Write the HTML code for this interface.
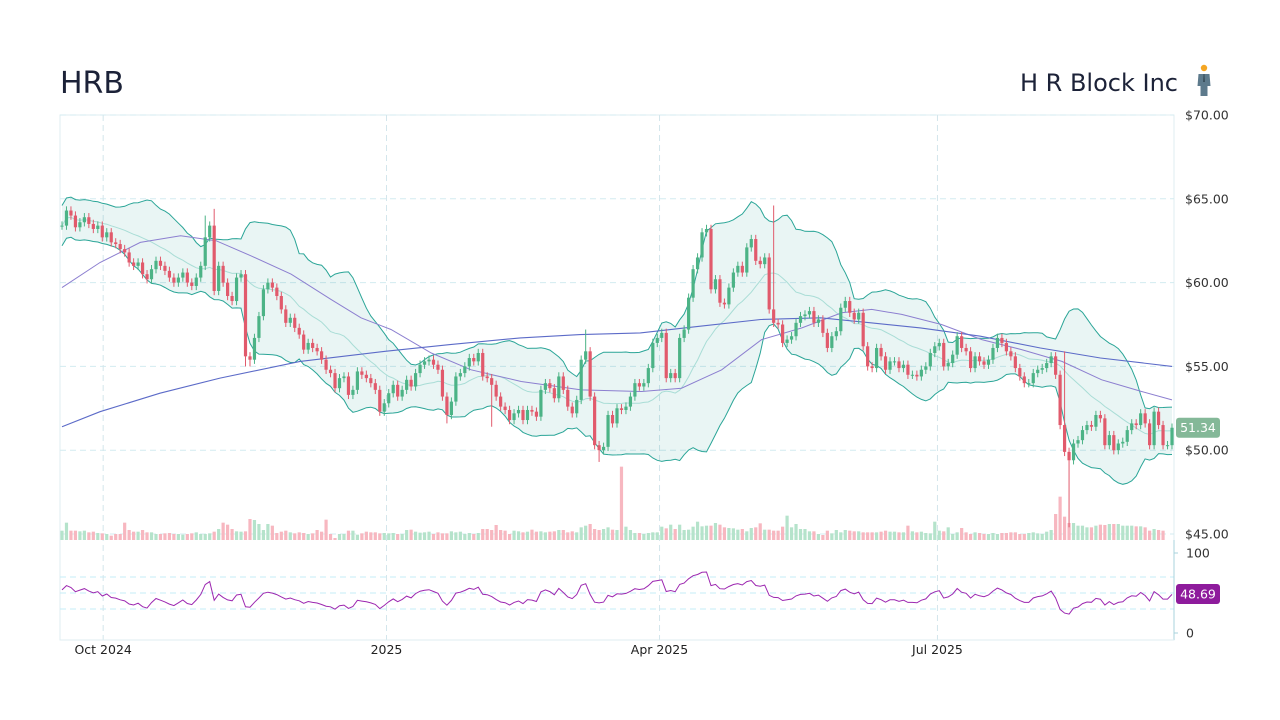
<!DOCTYPE html>
<html><head><meta charset="utf-8"><style>
html,body{margin:0;padding:0;background:#fff;}
svg{display:block;font-family:"DejaVu Sans","Liberation Sans",sans-serif;}
</style></head><body>
<svg id="chart" width="1280" height="720" viewBox="0 0 1280 720">
<text x="60" y="93" font-size="30" fill="#1c2238">HRB</text>
<text x="1178" y="91" font-size="24" fill="#1c2238" text-anchor="end">H R Block Inc</text>
<g>
<circle cx="1204" cy="68" r="3.2" fill="#f5a623"/>
<path d="M1198.5 74 h11 l1 12 h-3 v10 h-7 v-10 h-3z" fill="#5d7a8c"/>
<path d="M1203.5 74 h1 l0.5 8 h-2z" fill="#3a4f5c"/>
</g>
<g id="grid"></g>
<g id="vol"></g>
<g id="bands"></g>
<g id="mas"></g>
<g id="candles"></g>
<g id="rsi"></g>
<g id="axes"></g>
</svg>
<script>
const closes=[63.4,64.3,64.0,63.3,63.6,63.9,63.5,63.2,63.4,62.7,
63.0,62.4,62.3,62.0,61.8,61.2,61.0,61.2,60.5,60.2,
60.8,61.3,61.0,60.7,60.3,60.0,60.3,60.6,60.0,59.8,
60.3,61.0,62.7,63.4,59.5,61.0,60.0,59.2,58.9,60.3,
60.5,55.6,55.4,56.7,58.0,59.6,60.0,59.7,59.2,58.4,
57.6,57.9,57.3,56.9,56.0,56.4,56.1,55.9,55.4,54.8,
54.6,53.7,54.3,
54.4,53.3,53.6,54.7,54.5,54.3,54.0,53.6,52.3,52.8,
53.4,53.9,53.2,53.6,54.2,53.8,54.6,55.1,55.3,55.4,
55.1,54.8,53.2,52.1,52.9,54.4,54.6,55.0,55.5,55.3,
55.8,54.4,54.3,53.9,53.2,52.6,52.4,51.8,52.2,52.4,
51.8,52.4,52.3,52.0,53.6,54.0,53.7,53.1,54.4,53.6,
52.6,52.2,53.0,55.4,55.9,53.2,50.3,50.0,50.2,52.1,
51.6,52.5,52.4,52.6,53.2,
54.0,53.8,54.0,54.9,56.4,56.7,57.0,54.3,54.6,54.3,
56.7,57.2,59.1,60.8,61.5,63.0,63.2,59.6,60.2,58.8,
58.7,59.7,60.6,61.0,60.6,62.1,62.6,61.3,61.1,61.5,
58.4,57.6,57.5,56.4,56.6,56.8,57.6,58.0,58.1,58.3,
57.6,57.8,57.0,56.1,56.8,57.1,58.5,58.9,58.2,57.8,
58.2,56.2,55.0,54.9,56.1,55.6,54.8,55.3,55.3,54.9,
55.1,54.5,
54.5,54.4,54.8,55.0,55.8,56.2,56.4,55.0,55.2,55.7,
56.8,56.1,55.9,54.9,55.6,55.3,55.1,55.4,56.1,56.7,
56.4,55.9,55.6,54.9,54.4,54.0,54.0,54.6,54.8,54.9,
55.2,55.6,54.5,51.5,49.9,49.4,50.4,50.6,51.2,51.5,
51.4,52.1,51.9,50.3,50.9,50.0,50.4,50.5,51.2,51.6,
51.5,52.2,51.6,50.3,52.3,51.5,50.3,50.3,51.34];
const wickHighIdx=[34,41,159,224,32,117];
const wickHighVal=[64.4,59.6,64.6,55.9,64.0,57.2];
const wickLowIdx=[41,42,120,225,86,96];
const wickLowVal=[55.0,55.0,49.3,45.4,51.6,51.4];
const volumes=[1400,2600,1400,1400,1300,1400,1150,1250,1050,1000,900,650,900,900,2600,1500,1250,1250,1500,1150,1150,900,900,1000,1050,900,900,800,900,1000,1150,900,900,1000,1250,1650,2600,2300,1650,1300,1250,1300,3150,3000,2400,1500,2400,2150,1050,1250,1400,1150,1000,1150,1050,900,1000,1500,1250,3050,900,300,900,900,1400,1400,800,1000,1250,1150,1150,1000,1050,1000,1050,900,900,1500,1550,1250,1100,1150,1250,900,1150,1000,1000,1300,1150,1250,900,1050,900,1050,1650,1650,1500,2250,1500,1400,900,1400,1300,1150,1250,1550,1250,1300,1150,1250,1300,1500,1500,1150,1300,1150,1900,2150,2400,1650,1500,1650,
1900,1550,1500,11000,2000,1500,1050,1050,900,1050,1150,1150,2000,1750,2300,1650,2300,1500,1550,2000,2750,2050,2150,2150,2550,2300,1900,1800,1750,1550,1650,1300,1800,1900,2500,1550,1550,1400,1400,2000,3650,1900,2400,1650,1650,1300,1300,900,750,1400,1000,1500,1150,1500,1400,1300,1300,1150,1150,1150,1150,1250,1400,1250,1250,1150,1150,2150,1300,1150,1250,1050,1000,2750,1400,1300,1900,900,1150,1800,1150,900,1150,1050,900,900,1050,900,1050,1050,1150,1150,900,900,1050,1150,1000,900,1250,1500,3900,6500,3500,2550,2550,2150,2150,1900,1900,2150,2300,2250,2400,2400,2400,2150,2150,2150,2050,2050,1900,1400,1650,1500,1400];
const ma50Idx=[0,8.5,17.5,26.5,34.4,42.2,51.2,60.1,66.8,73.5,82.5,91.4,102.6,116,129.5,138.4,147.4,156.3,165.3,174.2,180.9,187.6,196.5,205.5,214.4,223.4,232.3,241.2,248];
const ma50Val=[59.7,61.2,62.4,62.8,62.5,61.6,60.5,59.0,57.9,57.2,55.8,54.8,54.1,53.6,53.5,53.7,54.8,56.6,57.3,58.2,58.4,58.1,57.5,56.6,56.0,55.3,54.2,53.5,53.0];
const ma200Idx=[0,8.5,21.9,35.3,53.2,72.2,86.7,102.4,115.8,129.2,142.6,156.1,169.5,180.7,191.8,205.2,218.6,232,248];
const ma200Val=[51.4,52.3,53.4,54.3,55.3,55.9,56.3,56.7,56.9,57.0,57.4,57.8,57.9,57.6,57.3,56.8,56.1,55.5,55.0];
const priceTicks=[70,65,60,55,50,45];
const timeTickIdx=[9.2,72.5,133.5,195.6];
const timeTickLabels=["Oct 2024","2025","Apr 2025","Jul 2025"];
const rsiTicks=[100,0];
const rsiLast=48.69;
const rsiSeedGain=0.28, rsiSeedLoss=0.24;

const NS="http://www.w3.org/2000/svg";
const L=60,R=1174,X0=62,X1=1172,PT=115,PB=534,P0=45,P1=70,RT=553,RB=633;
const n=closes.length;
const step=(X1-X0)/(n-1);
const xs=i=>X0+i*step;
const yp=p=>PB-(p-P0)*(PB-PT)/(P1-P0);
const yr=v=>RB-v*(RB-RT)/100;
function mk(tag,attrs,parent){const e=document.createElementNS(NS,tag);for(const k in attrs)e.setAttribute(k,attrs[k]);parent.appendChild(e);return e;}
const gGrid=document.getElementById('grid'),gVol=document.getElementById('vol'),gB=document.getElementById('bands'),gM=document.getElementById('mas'),gC=document.getElementById('candles'),gR=document.getElementById('rsi'),gA=document.getElementById('axes');

let fr=mk('rect',{x:L,y:PT,width:R-L,height:640-PT,fill:'none',stroke:'#dfeef2','stroke-width':1},gGrid);


priceTicks.forEach(p=>{
 const y=yp(p);
 const l=mk('line',{x1:L,x2:R,y1:y,y2:y,stroke:'#d3ebf0','stroke-dasharray':'6,4'},gGrid);
 
 
 const t=mk('text',{x:1185,y:y+4.5,'font-size':12.5,fill:'#333'},gA);
 t.textContent='$'+p.toFixed(2);
 
 
});
[70,50,30].forEach(v=>{
 const l=mk('line',{x1:L,x2:R,y1:yr(v),y2:yr(v),stroke:'#c6ecf7','stroke-dasharray':'6,4'},gGrid);
 
 
});
timeTickIdx.forEach((ix,k)=>{
 const x=xs(ix);
 const l=mk('line',{x1:x,x2:x,y1:PT,y2:640,stroke:'#d3e6ec','stroke-dasharray':'6,4'},gGrid);
 
 
 const t=mk('text',{x:x,y:654,'font-size':12.5,fill:'#222','text-anchor':'middle'},gA);
 t.textContent=timeTickLabels[k];
 
 
});
let ax=mk('line',{x1:R,x2:R,y1:540,y2:640,stroke:'#a9d3dc'},gA);


let bx=mk('line',{x1:L,x2:R,y1:640,y2:640,stroke:'#dfeef2'},gA);


rsiTicks.forEach(v=>{
 mk('line',{x1:R,x2:R+4,y1:yr(v),y2:yr(v),stroke:'#a9d3dc'},gA);
 const t=mk('text',{x:1186,y:yr(v)+4.5,'font-size':12.5,fill:'#333'},gA);
 t.textContent=String(v);
 
 
});

const opens=closes.map((c,i)=>i===0?c:closes[i-1]);
const highs=closes.map((c,i)=>Math.max(c,opens[i])+0.25);
const lows=closes.map((c,i)=>Math.min(c,opens[i])-0.25);
wickHighIdx.forEach((ix,k)=>{if(ix<n)highs[ix]=Math.max(highs[ix],wickHighVal[k]);});
wickLowIdx.forEach((ix,k)=>{if(ix<n)lows[ix]=Math.min(lows[ix],wickLowVal[k]);});

const VB=540,vScale=150;
for(let i=0;i<n&&i<volumes.length;i++){
 const h=volumes[i]/vScale;const up=closes[i]>=opens[i];
 const r=mk('rect',{x:xs(i)-1.6,y:VB-h,width:3.2,height:h,fill:up?'#b5e3cb':'#f7b7c0'},gVol);
 
 
}

const up=[],lo=[],mid=[];
for(let i=0;i<n;i++){const w=closes.slice(Math.max(0,i-19),i+1);const m=w.reduce((a,b)=>a+b,0)/w.length;const sd=Math.sqrt(w.reduce((a,b)=>a+(b-m)*(b-m),0)/w.length);const s=Math.max(sd,0.6);mid.push(m);up.push(m+2*s);lo.push(m-2*s);}
let dU=up.map((v,i)=>(i?'L':'M')+xs(i).toFixed(1)+','+yp(v).toFixed(1)).join('');
let dL=lo.map((v,i)=>'L'+xs(i).toFixed(1)+','+yp(v).toFixed(1)).reverse().join('');
let bf=mk('path',{d:dU+dL+'Z',fill:'rgba(0,140,130,0.085)',stroke:'none'},gB);


[[up,'bollinger-upper','#2aa597'],[lo,'bollinger-lower','#2aa597'],[mid,'bollinger-middle','#a9ddd6']].forEach(([arr,nm,col])=>{
 const p=mk('path',{d:arr.map((v,i)=>(i?'L':'M')+xs(i).toFixed(1)+','+yp(v).toFixed(1)).join(''),fill:'none',stroke:col,'stroke-width':1},gB);
 
 
});
const m50=mk('path',{d:ma50Idx.map((ix,k)=>(k?'L':'M')+xs(ix).toFixed(1)+','+yp(ma50Val[k]).toFixed(1)).join(''),fill:'none',stroke:'#8c7fd0','stroke-width':1},gM);


const m200=mk('path',{d:ma200Idx.map((ix,k)=>(k?'L':'M')+xs(ix).toFixed(1)+','+yp(ma200Val[k]).toFixed(1)).join(''),fill:'none',stroke:'#5c6bc8','stroke-width':1.1},gM);



for(let i=0;i<n;i++){
 const o=opens[i],c=closes[i];const upc=c>=o;const col=upc?'#4cb386':'#e15a6c';
 const x=xs(i);
 const w=mk('line',{x1:x,x2:x,y1:yp(highs[i]),y2:yp(lows[i]),stroke:col,'stroke-width':1},gC);
 
 
 const top=yp(Math.max(o,c)),bot=yp(Math.min(o,c));
 const b=mk('rect',{x:x-1.6,y:top,width:3.2,height:Math.max(1,bot-top),fill:col},gC);
 
 
}

let ag=rsiSeedGain,al=rsiSeedLoss;const rsi=[[0,100-100/(1+ag/al)]];
for(let i=1;i<n;i++){const d=closes[i]-closes[i-1];const g=Math.max(d,0),l=Math.max(-d,0);
 ag=(ag*13+g)/14;al=(al*13+l)/14;
 rsi.push([i,100-100/(1+ag/al)]);}
const rp=mk('path',{d:rsi.map(([i,v],k)=>(k?'L':'M')+xs(i).toFixed(1)+','+yr(v).toFixed(1)).join(''),fill:'none',stroke:'#9c27b0','stroke-width':1},gR);



const last=closes[n-1];
const pb=mk('rect',{x:1176,y:yp(last)-10,width:44,height:20,rx:3,fill:'#84b898'},gA);


const pt=mk('text',{x:1198,y:yp(last)+4.5,'font-size':12.5,fill:'#fff','text-anchor':'middle'},gA);
pt.textContent=last.toFixed(2);


const rb=mk('rect',{x:1176,y:yr(rsiLast)-10,width:44,height:20,rx:3,fill:'#8e1b9c'},gA);


const rt=mk('text',{x:1198,y:yr(rsiLast)+4.5,'font-size':12.5,fill:'#fff','text-anchor':'middle'},gA);
rt.textContent=rsiLast.toFixed(2);


</script>
</body></html>
